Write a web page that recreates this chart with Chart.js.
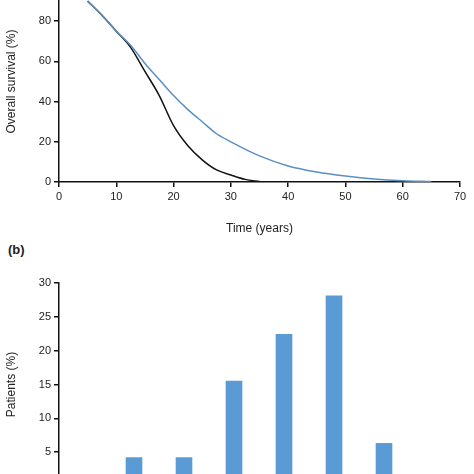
<!DOCTYPE html><html><head><meta charset="utf-8">
<script src="https://cdn.jsdelivr.net/npm/chart.js@4"></script>
<style>body{margin:0;width:474px;height:474px;overflow:hidden;position:relative;background:#fff;font-family:"Liberation Sans",Arial,sans-serif}
#c1{position:absolute;left:0;top:-40px}#c2{position:absolute;left:0;top:230px}
#lb{position:absolute;left:8px;top:242px;font-weight:bold;font-size:13px;color:#222}</style></head><body>
<canvas id="c1" width="474" height="280"></canvas>
<div id="lb">(b)</div>
<canvas id="c2" width="474" height="300"></canvas>
<script>
const blackYears=[5,7.5,10,12.5,15,17.5,20,22.5,25,27.5,30,32.5,35];
const blackSurv=[90,83,75,67,55,43,28,18,11,6,3.5,1.3,0.2];
const blueYears=[5,7.5,10,12.5,15,17.5,20,22.5,25,27.5,30,35,40,45,50,55,60,65];
const blueSurv=[90,83,75,68,59,51,43,36,30,24,20,13,8,5,3,1.5,0.6,0.2];
const xTicks=[0,10,20,30,40,50,60,70];
const barCats=['','','','','','','',''];
const barVals=[0,4.2,4.2,15.5,22.4,28.1,6.3,0];
const pts=(xs,ys)=>xs.map((x,i)=>({x,y:ys[i]}));
Chart.defaults.font.family='"Liberation Sans",Arial,sans-serif';
Chart.defaults.color='#222';
const ax=(extra)=>Object.assign({border:{color:'#111',width:1.5},grid:{drawOnChartArea:false,tickLength:5,color:'#111',lineWidth:1.5},ticks:{font:{size:11},color:'#222'}},extra);
new Chart(document.getElementById('c1'),{type:'line',data:{datasets:[
{data:pts(blueYears,blueSurv),borderColor:'#5a8fc4',borderWidth:1.5,pointRadius:0,tension:0.4,cubicInterpolationMode:'monotone'},
{data:pts(blackYears,blackSurv),borderColor:'#111',borderWidth:1.5,pointRadius:0,cubicInterpolationMode:'monotone'}]},
options:{responsive:false,animation:false,layout:{padding:{left:0,right:14,top:21,bottom:0}},plugins:{legend:{display:false},tooltip:{enabled:false}},
scales:{x:ax({type:'linear',min:0,max:70,afterBuildTicks:s=>{s.ticks=xTicks.map(v=>({value:v}))},afterFit:s=>{s.height=58},title:{display:true,text:'Time (years)',font:{size:12},padding:{top:8}}}),
y:ax({min:0,max:100,ticks:{stepSize:20,font:{size:11},color:'#222'},afterFit:s=>{s.width=59},title:{display:true,text:'Overall survival (%)',font:{size:12}}})}}});
new Chart(document.getElementById('c2'),{type:'bar',data:{labels:barCats,datasets:[{data:barVals,backgroundColor:'#5b9bd5',barThickness:16}]},
options:{responsive:false,animation:false,layout:{padding:{left:0,right:15,top:53,bottom:0}},plugins:{legend:{display:false},tooltip:{enabled:false}},
scales:{x:ax({afterFit:s=>{s.height=44}}),y:ax({min:0,max:30,ticks:{stepSize:5,font:{size:11},color:'#222'},afterFit:s=>{s.width=59},title:{display:true,text:'Patients (%)',font:{size:12}}})}}});
</script></body></html>
